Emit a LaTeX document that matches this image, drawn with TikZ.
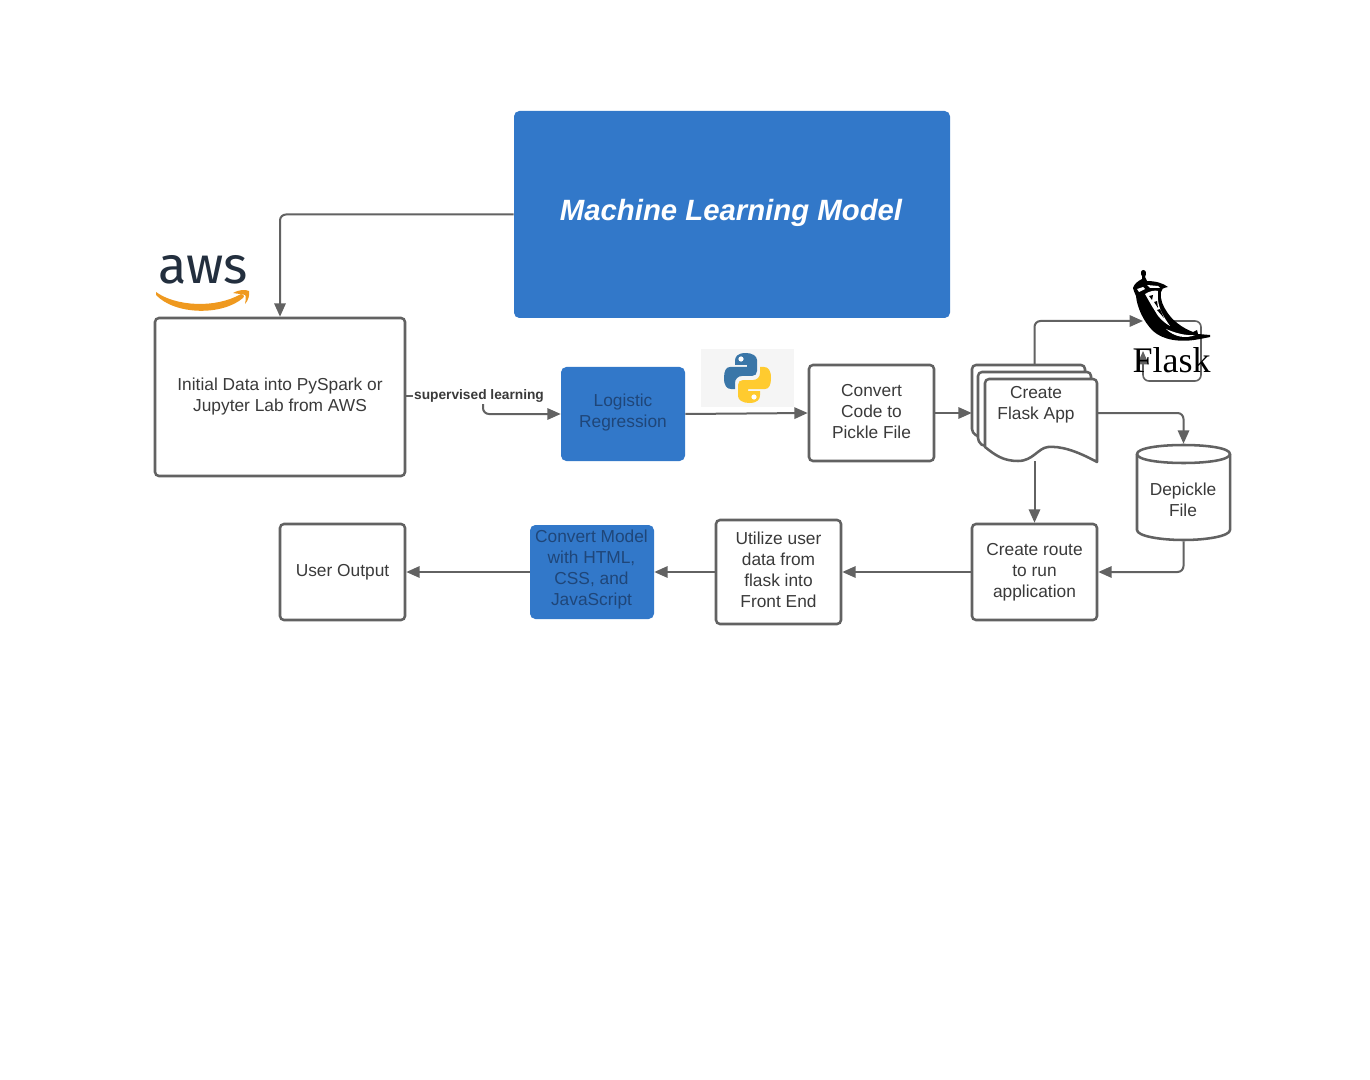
\documentclass[tikz,border=0pt]{standalone}
\usepackage{fontspec}
\setmainfont{Liberation Sans}
\newfontfamily\awsfont{Fira Sans}
\newfontfamily\flaskfont{Liberation Serif}
\usetikzlibrary{arrows.meta}
\definecolor{linec}{HTML}{626262}
\definecolor{txt}{HTML}{3A3A3A}
\definecolor{mlblue}{HTML}{3278C9}
\definecolor{navy}{HTML}{1F4679}
\definecolor{pyblue}{HTML}{3A76A8}
\definecolor{pyyellow}{HTML}{FFCB2F}
\definecolor{awsorange}{HTML}{EF991F}
\definecolor{awsink}{HTML}{232F3E}
\tikzset{
  x=0.75pt,y=-0.75pt,
  lbl/.style={align=center,inner sep=0pt,text=txt,font=\fontsize{13}{15.75}\selectfont},
  navylbl/.style={lbl,text=navy},
  box/.style={draw=linec,line width=1.9pt,rounded corners=3pt,fill=white,inner sep=0pt},
  bluebox/.style={fill=mlblue,rounded corners=4pt,inner sep=0pt},
  sized/.style 2 args={minimum width=#1*0.75pt,minimum height=#2*0.75pt},
  conn/.style={draw=linec,line width=1.5pt,rounded corners=4.5pt,-{Triangle[length=10pt,width=8.5pt]}},
  plainline/.style={draw=linec,line width=1.5pt,rounded corners=4.5pt},
  outl/.style={draw=linec,line width=1.9pt,fill=white,line join=round},
}
\newcommand{\snake}{(746,353) .. controls (737,353) and (735,357) .. (735,361) -- (735,365) -- (747,365) -- (747,367) -- (730,367) .. controls (726,367) and (724,371) .. (724,378) .. controls (724,386) and (727,389) .. (731,389) -- (735,389) -- (735,383) .. controls (735,379) and (738,376) .. (742,376) -- (752,376) .. controls (755,376) and (757,374) .. (757,371) -- (757,360) .. controls (757,356) and (752,353) .. (746,353) -- cycle}
\begin{document}
\begin{tikzpicture}
\useasboundingbox (0,0) rectangle (1370,1080);
\fill[white] (0,0) rectangle (1370,1080);

% main boxes
\node[bluebox,sized={436}{207}] (ml) at (732,214.5) {};
\node[font=\fontsize{22}{27}\selectfont\bfseries\itshape,text=white,inner sep=0pt] (mltext) at (731,213) {Machine Learning Model};
\node[box,sized={250}{158}] (init) at (280,397) {};
\node[lbl] (inittext) at (280,396.5) {Initial Data into PySpark or\\Jupyter Lab from AWS};
\node[bluebox,sized={124}{94}] (logit) at (623,414) {};
\node[navylbl] (logittext) at (623,413) {Logistic\\Regression};
\node[box,sized={125}{96}] (pickle) at (871.5,413) {};
\node[lbl] (pickletext) at (871.5,412) {Convert\\Code to\\Pickle File};
\node[box,sized={125}{96}] (route) at (1034.5,572) {};
\node[lbl] (routetext) at (1034.5,572) {Create route\\to run\\application};
\node[box,sized={125}{104}] (util) at (778.5,572) {};
\node[lbl] (utiltext) at (778.5,570) {Utilize user\\data from\\flask into\\Front End};
\node[bluebox,sized={124}{94}] (model) at (592,572) {};
\node[navylbl] (modeltext) at (591.5,570) {Convert Model\\with HTML,\\CSS, and\\JavaScript};
\node[box,sized={125}{96}] (user) at (342.5,572) {};
\node[lbl] (usertext) at (342.5,572) {User Output};

% stacked document
\draw[outl,rounded corners=3pt] (972,433) -- (972,365) -- (1085,365) -- (1085,400) -- (985,440) -- cycle;
\draw[outl,rounded corners=3pt] (978,442) -- (978,372) -- (1091,372) -- (1091,400) -- (985,447) -- cycle;
\draw[outl] (985,447) -- (985,385) [rounded corners=3pt] -- (985,379) -- (1097,379) [sharp corners] -- (1097,462)
  .. controls (1075,450) and (1060,446) .. (1048,447)
  .. controls (1038,448) and (1033,461) .. (1018,461)
  .. controls (1003,461) and (995,455) .. (985,447) -- cycle;
\node[inner sep=0pt,sized={125}{96}] (app) at (1034.5,413) {};
\node[lbl] (apptext) at (1036,404.5) {Create\\Flask App};

% cylinder
\draw[outl] (1137,454) -- (1137,530) .. controls (1137,536) and (1160,540) .. (1183.5,540) .. controls (1207,540) and (1230,536) .. (1230,530) -- (1230,454);
\draw[outl] (1183.5,445) .. controls (1160,445) and (1137,448) .. (1137,454) .. controls (1137,460) and (1160,463) .. (1183.5,463) .. controls (1207,463) and (1230,460) .. (1230,454) .. controls (1230,448) and (1207,445) .. (1183.5,445) -- cycle;
\node[inner sep=0pt,sized={93}{97}] (dep) at (1183.5,492.5) {};
\node[lbl] (deptext) at (1183,499.5) {Depickle\\File};

% connectors
\coordinate (flaskin) at (1143,321);
\coordinate (sup) at (483,396);
\coordinate (flaskloopA) at (1172,321);
\coordinate (flaskloopB) at (1201,381);
\coordinate (flaskloopC) at (1143,351);
\draw[conn] (ml.west) -| (init.north);
\draw[plainline] (init.east |- sup) -- (sup);
\draw[conn] (sup) |- (logit.west);
\draw[conn] (logit.east) -- (pickle.west);
\draw[conn] (pickle.east) -- (app.west);
\draw[conn] (app.north) |- (flaskin);
\draw[conn] (app.east) -| (dep.north);
\draw[conn] (app.south) -- (route.north);
\draw[conn] (dep.south) |- (route.east);
\draw[conn] (route.west) -- (util.east);
\draw[conn] (util.west) -- (model.east);
\draw[conn] (model.west) -- (user.east);
\draw[conn,line width=1.2pt] (flaskloopA) -| (flaskloopB) -| (flaskloopC);
\node[fill=white,inner sep=1pt,text=txt,font=\fontsize{10.3}{13}\selectfont\bfseries] (suplabel) at (479,396) {supervised learning};

% aws logo
\node[inner sep=0pt,text=awsink,font=\fontsize{39}{42}\awsfont] (awstext) at (203,270) {aws};
\fill[awsorange] (156,292) .. controls (175,306) and (215,309) .. (241,294) .. controls (243,293) and (245,296) .. (243,298) .. controls (222,316) and (175,315) .. (156,295) -- cycle;
\fill[awsorange] (233,293) .. controls (238,290) and (245,289) .. (249,291) .. controls (250,295) and (248,301) .. (245,304) .. controls (246,299) and (246,296) .. (245,295) .. controls (243,294) and (238,294) .. (233,293) -- cycle;

% python logo
\fill[black!4] (701,349) rectangle (794,407);
\fill[pyblue] \snake;
\fill[white] (741,359) circle (2.6);
\begin{scope}[rotate around={180:(747.5,378)}]
\fill[pyyellow] \snake;
\fill[white] (741,359) circle (2.6);
\end{scope}

% flask logo
\fill[black] (1143,270) .. controls (1146,270) and (1147,273) .. (1145,277) -- (1147,281) .. controls (1155,281) and (1163,283) .. (1168,287)
  .. controls (1163,288) and (1161,289) .. (1161,292)
  .. controls (1160,300) and (1163,306) .. (1167,312)
  .. controls (1172,320) and (1182,328) .. (1193,332)
  -- (1197,330) -- (1198,334) -- (1210,335) -- (1210,337) -- (1200,339)
  .. controls (1180,343) and (1163,340) .. (1153,331)
  .. controls (1143,321) and (1137,307) .. (1136,296)
  .. controls (1135,293) and (1133,290) .. (1133,288)
  .. controls (1134,284) and (1138,281) .. (1142,279) -- (1142,276) .. controls (1140,274) and (1141,270) .. (1143,270) -- cycle;
% highlights
\fill[white] (1137,289) -- (1143,287) -- (1145,289) -- (1139,292) -- cycle;
\fill[white] (1147,285) -- (1158,286) -- (1160,288) -- (1150,288) -- cycle;
\fill[white] (1145,294) .. controls (1150,291) and (1155,290) .. (1158,291)
  .. controls (1157,300) and (1159,308) .. (1163,315)
  .. controls (1165,319) and (1168,323) .. (1170,326)
  .. controls (1163,322) and (1158,317) .. (1155,311)
  .. controls (1151,305) and (1148,299) .. (1145,294) -- cycle;
\fill[white] (1166,329) .. controls (1175,333) and (1186,336) .. (1195,335) .. controls (1186,339) and (1174,337) .. (1166,329) -- cycle;
\fill[black] (1149,296) -- (1153,295) -- (1152,300) -- cycle;
\fill[black] (1154,302) -- (1157,301) -- (1158,308) -- cycle;
\fill[black] (1157,310) -- (1160,309) -- (1164,318) -- cycle;
\node[inner sep=0pt,text=black,font=\fontsize{27}{30}\flaskfont] (flasktext) at (1171.5,360) {Flask};
\end{tikzpicture}
\end{document}
